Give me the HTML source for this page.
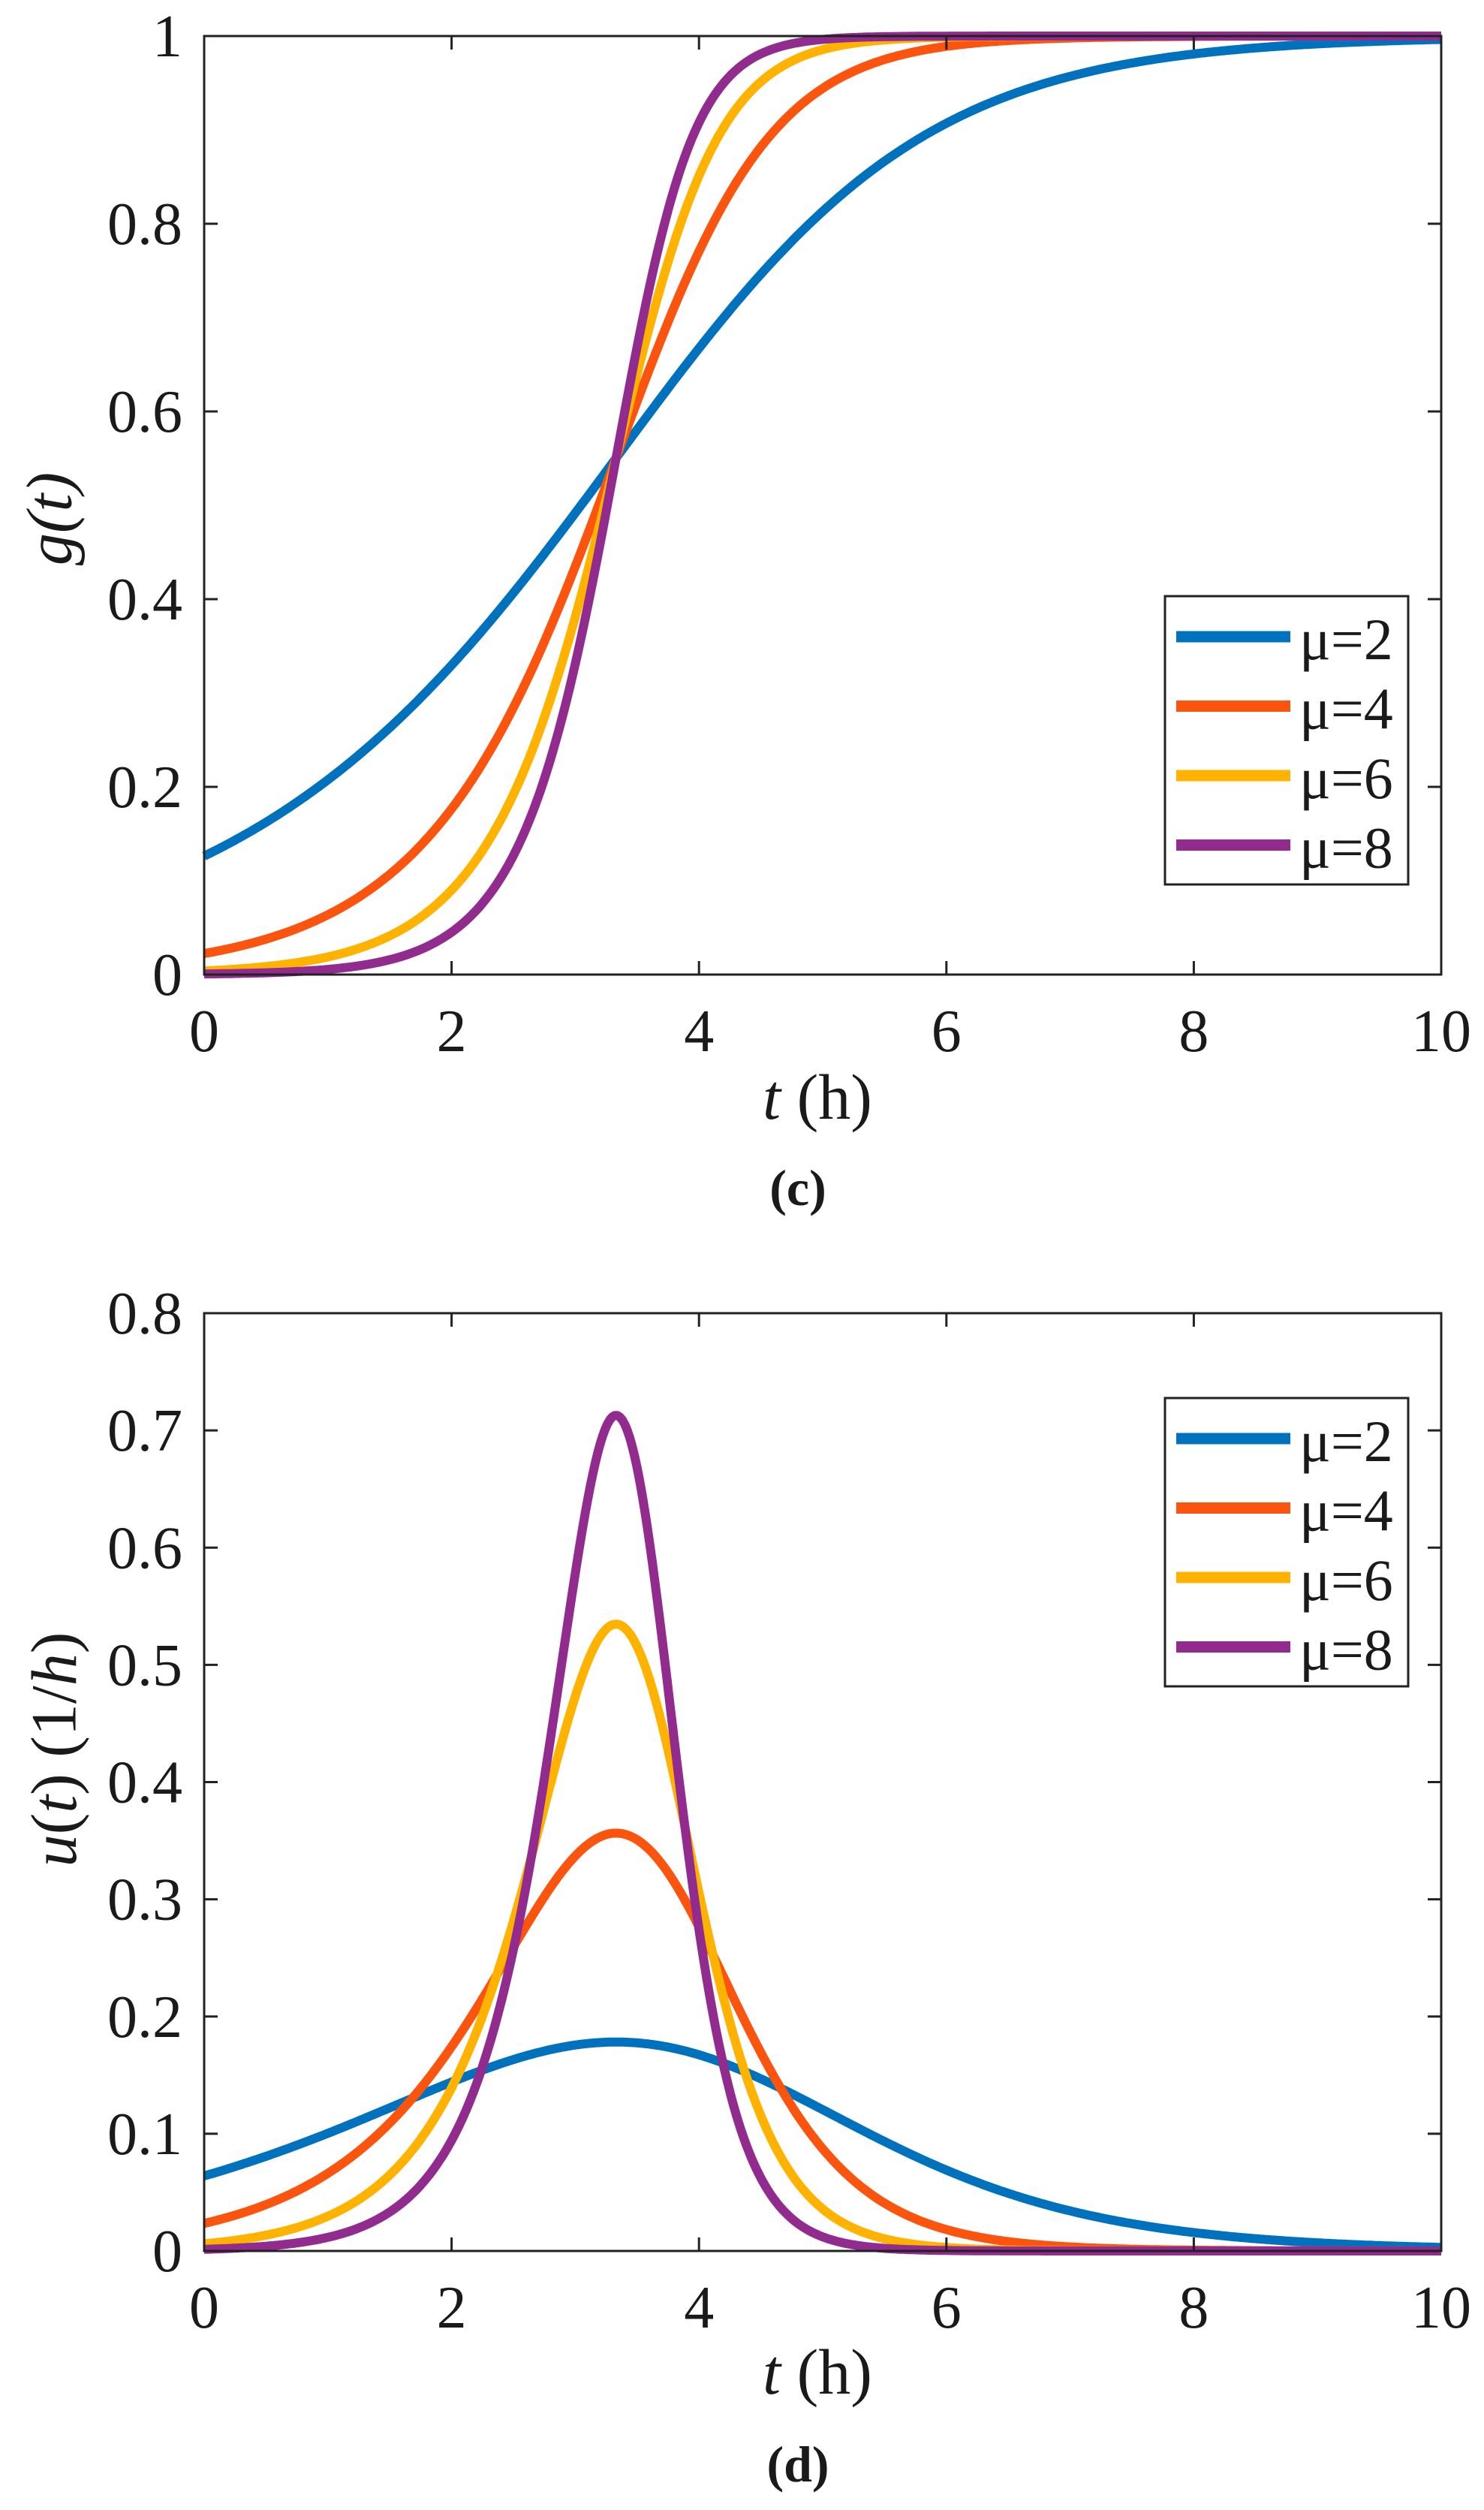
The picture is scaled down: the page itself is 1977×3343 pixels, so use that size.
<!DOCTYPE html>
<html><head><meta charset="utf-8"><style>
html,body{margin:0;padding:0;background:#fff;}
svg{display:block;font-family:"Liberation Serif","Times New Roman",Times,"DejaVu Serif",serif;}
svg text{font-family:"Liberation Serif","Times New Roman",Times,"DejaVu Serif",serif;fill:#1a1a1a;}
</style></head><body>
<svg id="s" xmlns="http://www.w3.org/2000/svg" width="1977" height="3343" viewBox="0 0 1977 3343" font-family="Liberation Serif, Times New Roman, serif">
<rect width="1977" height="3343" fill="#fff"/>
<g id="g"></g>
<text x="75" y="691" font-size="86" font-style="italic" text-anchor="middle" transform="rotate(-90 75 691)" dominant-baseline="middle">g(t)</text>
<text x="1089" y="1490" font-size="86" text-anchor="middle"><tspan font-style="italic">t</tspan> (h)</text>
<text x="1063" y="1605" font-size="68" font-weight="bold" text-anchor="middle">(c)</text>
<text x="81" y="2330" font-size="86" text-anchor="middle" transform="rotate(-90 81 2330)" dominant-baseline="middle"><tspan font-style="italic">u</tspan>(<tspan font-style="italic">t</tspan>) (1/<tspan font-style="italic">h</tspan>)</text>
<text x="1089" y="3188" font-size="86" text-anchor="middle"><tspan font-style="italic">t</tspan> (h)</text>
<text x="1063" y="3305" font-size="68" font-weight="bold" text-anchor="middle">(d)</text>
</svg>
<script>
(function(){
var NS="http://www.w3.org/2000/svg",G=document.getElementById("g");
function el(t,a,txt){var e=document.createElementNS(NS,t);for(var k in a)e.setAttribute(k,a[k]);if(txt!=null)e.textContent=txt;G.appendChild(e);return e;}
var cols=["#0072BD","#FA540F","#FFB300","#922B8E"],mus=[2,4,6,8];
var nu=1.6,c=3.33,K=0.421;
function g(t,m){var k=K*m,E=Math.exp(-k*(t-c));return Math.pow(1+nu*E,-1/nu);}
function u(t,m){var k=K*m,E=Math.exp(-k*(t-c));return k*E*Math.pow(1+nu*E,-1/nu-1);}
function plot(X0,X1,Y0,Y1,ymax,ystep,f,legTop){
 var sx=function(t){return X0+(X1-X0)*t/10;},sy=function(v){return Y1-(Y1-Y0)*v/ymax;};
 for(var i=0;i<4;i++){var d="";for(var j=0;j<=500;j++){var t=10*j/500;var y=sy(f(t,mus[i]));d+=(j?"L":"M")+sx(t).toFixed(1)+" "+y.toFixed(1);}
  el("path",{d:d,fill:"none",stroke:cols[i],"stroke-width":12,"stroke-linejoin":"round"});}
 el("rect",{x:X0,y:Y0,width:X1-X0,height:Y1-Y0,fill:"none",stroke:"#222","stroke-width":3});
 for(var t=0;t<=10;t+=2){var x=sx(t);
  el("line",{x1:x,y1:Y1,x2:x,y2:Y1-18,stroke:"#222","stroke-width":3});
  el("line",{x1:x,y1:Y0,x2:x,y2:Y0+18,stroke:"#222","stroke-width":3});
  el("text",{x:x,y:Y1+102,"font-size":80,"text-anchor":"middle"},String(t));}
 var n=Math.round(ymax/ystep);
 for(var i=0;i<=n;i++){var v=i*ystep,y=sy(v);
  el("line",{x1:X0,y1:y,x2:X0+18,y2:y,stroke:"#222","stroke-width":3});
  el("line",{x1:X1,y1:y,x2:X1-18,y2:y,stroke:"#222","stroke-width":3});
  var lab=(Math.abs(v-1)<1e-9)?"1":(i==0?"0":v.toFixed(1));
  el("text",{x:243,y:y+27,"font-size":80,"text-anchor":"end"},lab);}
 el("rect",{x:1552,y:legTop,width:324,height:384,fill:"#fff",stroke:"#222","stroke-width":3});
 for(var i=0;i<4;i++){var ly=legTop+54+92.5*i;
  el("line",{x1:1567,y1:ly,x2:1719,y2:ly,stroke:cols[i],"stroke-width":15});
  el("text",{x:1731,y:ly+30,"font-size":78},"\u03bc="+mus[i]);}
}
plot(272,1920,48,1298,1,0.2,g,794);
plot(272,1920,1749,2998,0.8,0.1,u,1862);
})();
</script>
</body></html>
